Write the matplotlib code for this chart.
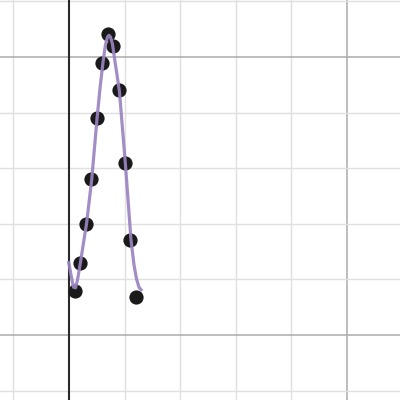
import matplotlib
matplotlib.use("Agg")
import matplotlib.pyplot as plt
import numpy as np

# dots
x_pts = [0.1, 0.2, 0.3, 0.4, 0.5, 0.6, 0.7, 0.8, 0.9, 1.0, 1.1, 1.2]
y_pts = [5.79, 6.30, 7.00, 7.80, 8.90, 9.90, 10.41, 10.20, 9.40, 8.10, 6.70, 5.69]

# fitted curve
curve_x = [-0.009, 0.036, 0.081, 0.117, 0.153, 0.207, 0.261, 0.315, 0.408,
           0.504, 0.558, 0.612, 0.656, 0.692, 0.719, 0.746, 0.782, 0.818,
           0.863, 0.908, 1.013, 1.115, 1.169, 1.214, 1.259, 1.313]
curve_y = [6.33, 6.08, 5.86, 5.85, 5.99, 6.31, 6.66, 7.00, 7.79,
           8.89, 9.44, 9.91, 10.22, 10.36, 10.39, 10.36, 10.23, 9.98,
           9.68, 9.37, 8.09, 6.71, 6.26, 6.01, 5.86, 5.79]

fig = plt.figure(figsize=(4, 4), dpi=100)
ax = fig.add_axes([0, 0, 1, 1])

# one grid unit is 55.6 px, y axis at px 69, y=5 line at px 335
unit = 55.6
ax.set_xlim(-69 / unit, (400 - 69) / unit)
ax.set_ylim(5 - 65 / unit, 5 + 335 / unit)

for gx in range(-1, 7):
    if gx == 0:
        continue
    major = gx % 5 == 0
    ax.axvline(gx, color="#ababab" if major else "#e0e0e0",
               lw=1.1 if major else 1.0, zorder=0)
for gy in range(3, 12):
    major = gy % 5 == 0
    ax.axhline(gy, color="#ababab" if major else "#e0e0e0",
               lw=1.1 if major else 1.0, zorder=0)
ax.axvline(0, color="#2a2a2a", lw=1.5, zorder=1)

ax.scatter(x_pts, y_pts, s=105, color="#1a1a1a", zorder=2, linewidths=0)
ax.plot(curve_x, curve_y, color="#9a84c0", lw=2.3, alpha=0.92,
        zorder=3, solid_joinstyle="round", solid_capstyle="butt")

ax.set_axis_off()
plt.savefig("out.png", dpi=100)
